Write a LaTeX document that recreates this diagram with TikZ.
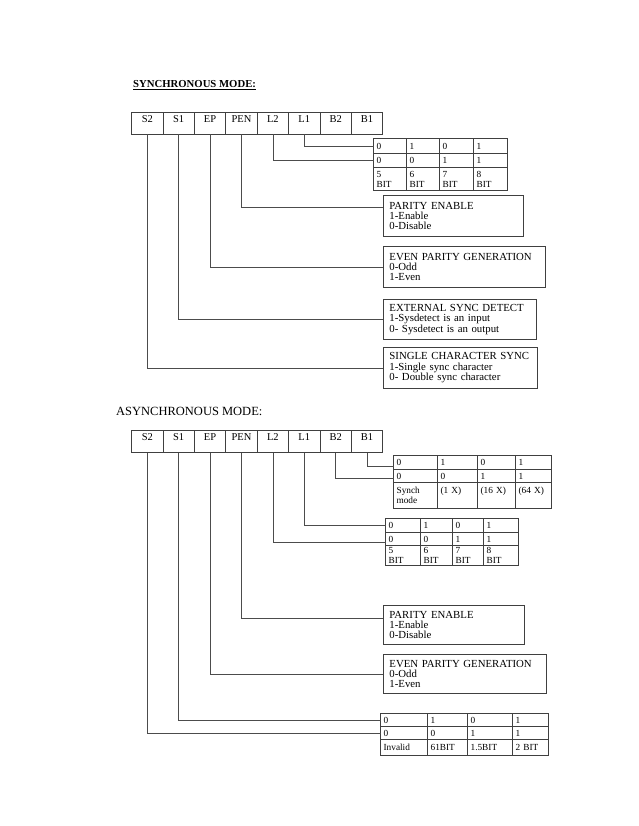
\documentclass[tikz,border=0pt]{standalone}
\usepackage{fontspec}
\setmainfont{Liberation Serif}
\usetikzlibrary{matrix}
\tikzset{
  modehead/.style={anchor=base west, inner sep=0pt},
  regrow/.style={matrix of nodes, anchor=north west, inner sep=0pt, column sep=-0.8pt,
    nodes={draw=black!75, line width=0.8pt, outer sep=0pt, inner sep=0pt, anchor=center,
      minimum width=31.4pt, minimum height=#1, text height=7pt, text depth=9pt,
      font=\fontsize{10.5}{12}\selectfont}},
  bittab/.style={matrix of nodes, anchor=north west, inner sep=0pt, column sep=-0.8pt, row sep=-0.8pt,
    nodes={draw=black!75, line width=0.8pt, outer sep=0pt, inner xsep=3pt, inner ysep=1pt,
      anchor=center, align=left, minimum height=13.5pt, font=\fontsize{9.3}{9.8}\selectfont}},
  infobox/.style={draw=black!75, line width=0.8pt, anchor=north west, align=left,
    inner xsep=6pt, font=\fontsize{10.8}{10.4}\selectfont},
  wire/.style={draw=black!70, line width=0.8pt}
}

\begin{document}
\begin{tikzpicture}[x=1pt, y=-1pt]
  \useasboundingbox[fill=white] (0,0) rectangle (638,826);

  % synchronous mode
  \node[modehead, font=\fontsize{10.7}{12}\selectfont\bfseries] (shead) at (133,88) {\underline{SYNCHRONOUS MODE:}};
  \matrix[regrow=21.5pt] (sreg) at (131,112) {S2 & S1 & EP & PEN & L2 & L1 & B2 & B1 \\};
  \matrix[bittab,
    column 1/.style={nodes={text width=27pt}}, column 2/.style={nodes={text width=27pt}},
    column 3/.style={nodes={text width=28pt}}, column 4/.style={nodes={text width=28pt}},
    row 1/.style={nodes={minimum height=15pt}}, row 2/.style={nodes={minimum height=14pt}},
    row 3/.style={nodes={minimum height=23pt}}] (ssize) at (373,138) {
    0 & 1 & 0 & 1 \\
    0 & 0 & 1 & 1 \\
    {5\\BIT} & {6\\BIT} & {7\\BIT} & {8\\BIT} \\
  };
  \node[infobox, text width=128pt, minimum height=41pt] (spar) at (383,195) {PARITY ENABLE\\1-Enable\\0-Disable};
  \node[infobox, text width=150pt, minimum height=41pt] (seven) at (383,246) {EVEN PARITY GENERATION\\0-Odd\\1-Even};
  \node[infobox, text width=141pt, minimum height=40pt] (sext) at (383,299) {EXTERNAL SYNC DETECT\\1-Sysdetect is an input\\0- Sysdetect is an output};
  \node[infobox, text width=142pt, minimum height=41pt] (ssingle) at (383,347) {SINGLE CHARACTER SYNC\\1-Single sync character\\0- Double sync character};
  \draw[wire] (sreg-1-6.south) |- (ssize-1-1.west);
  \draw[wire] (sreg-1-5.south) |- (ssize-2-1.west);
  \draw[wire] (sreg-1-4.south) |- ([yshift=8.5pt]spar.west);
  \draw[wire] (sreg-1-3.south) |- (seven.west);
  \draw[wire] (sreg-1-2.south) |- (sext.west);
  \draw[wire] (sreg-1-1.south) |- (ssingle.west);

  % asynchronous mode
  \node[modehead, font=\fontsize{12.5}{14}\selectfont] (ahead) at (116,415) {ASYNCHRONOUS MODE:};
  \matrix[regrow=22pt] (areg) at (131,430) {S2 & S1 & EP & PEN & L2 & L1 & B2 & B1 \\};
  \matrix[bittab,
    column 1/.style={nodes={text width=38pt}}, column 2/.style={nodes={text width=34pt}},
    column 3/.style={nodes={text width=32pt}}, column 4/.style={nodes={text width=30pt}},
    row 1/.style={nodes={minimum height=14pt}}, row 2/.style={nodes={minimum height=13pt}},
    row 3/.style={nodes={minimum height=26pt}}] (abaud) at (393,455) {
    0 & 1 & 0 & 1 \\
    0 & 0 & 1 & 1 \\
    {Synch\\mode} & {(1 X)\\\mbox{}} & {(16 X)\\\mbox{}} & {(64 X)\\\mbox{}} \\
  };
  \matrix[bittab,
    column 1/.style={nodes={text width=29pt}}, column 2/.style={nodes={text width=26pt}},
    column 3/.style={nodes={text width=25pt}}, column 4/.style={nodes={text width=29pt}},
    row 1/.style={nodes={minimum height=14pt}}, row 2/.style={nodes={minimum height=13pt}},
    row 3/.style={nodes={minimum height=20pt}}] (asize) at (385,518) {
    0 & 1 & 0 & 1 \\
    0 & 0 & 1 & 1 \\
    {5\\BIT} & {6\\BIT} & {7\\BIT} & {8\\BIT} \\
  };
  \node[infobox, text width=129pt, minimum height=39pt] (apar) at (383,605) {PARITY ENABLE\\1-Enable\\0-Disable};
  \node[infobox, text width=151pt, minimum height=39pt] (aeven) at (383,654) {EVEN PARITY GENERATION\\0-Odd\\1-Even};
  \matrix[bittab,
    column 1/.style={nodes={text width=41pt}}, column 2/.style={nodes={text width=34pt}},
    column 3/.style={nodes={text width=39pt}}, column 4/.style={nodes={text width=30pt}},
    row 1/.style={nodes={minimum height=13pt}}, row 2/.style={nodes={minimum height=13pt}},
    row 3/.style={nodes={minimum height=16pt}}] (astop) at (380,713) {
    0 & 1 & 0 & 1 \\
    0 & 0 & 1 & 1 \\
    Invalid & 61BIT & 1.5BIT & 2 BIT \\
  };
  \draw[wire] (areg-1-8.south) |- ([yshift=-4pt]abaud-1-1.west);
  \draw[wire] (areg-1-7.south) |- ([yshift=-2pt]abaud-2-1.west);
  \draw[wire] (areg-1-6.south) |- (asize-1-1.west);
  \draw[wire] (areg-1-5.south) |- ([yshift=-3pt]asize-2-1.west);
  \draw[wire] (areg-1-4.south) |- ([yshift=6.5pt]apar.west);
  \draw[wire] (areg-1-3.south) |- (aeven.west);
  \draw[wire] (areg-1-2.south) |- (astop-1-1.west);
  \draw[wire] (areg-1-1.south) |- (astop-2-1.west);
\end{tikzpicture}
\end{document}
